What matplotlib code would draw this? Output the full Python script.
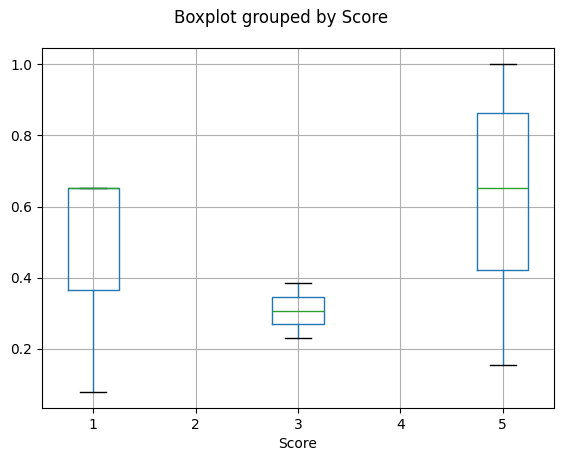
import numpy as np
import matplotlib
matplotlib.use("Agg")
import matplotlib.pyplot as plt

scores = [1, 2, 3, 4, 5]
score_1 = [0.079, 0.653, 0.653]
score_2 = []
score_3 = [0.231, 0.270, 0.306, 0.346, 0.385]
score_4 = []
score_5 = [0.155, 0.422, 0.653, 0.864, 1.0]

groups = [score_1, score_2, score_3, score_4, score_5]

fig = plt.figure(figsize=(5.63, 4.61), dpi=100)
ax = fig.add_axes([42 / 563, (461 - 408) / 461, (554 - 42) / 563, (408 - 48) / 461])

ax.boxplot(groups, positions=scores, widths=0.5,
           boxprops=dict(color="#1f77b4"),
           whiskerprops=dict(color="#1f77b4"),
           capprops=dict(color="black"),
           medianprops=dict(color="#2ca02c"),
           flierprops=dict(marker="o"))
ax.set_xticks(scores)
ax.set_xticklabels([str(s) for s in scores])
ax.set_xlim(0.5, 5.5)
ax.grid(True)
ax.set_axisbelow(True)
ax.set_xlabel("Score")
fig.suptitle("Boxplot grouped by Score", y=1 - 18 / 461, va="center")

fig.savefig("out.png", dpi=100)
